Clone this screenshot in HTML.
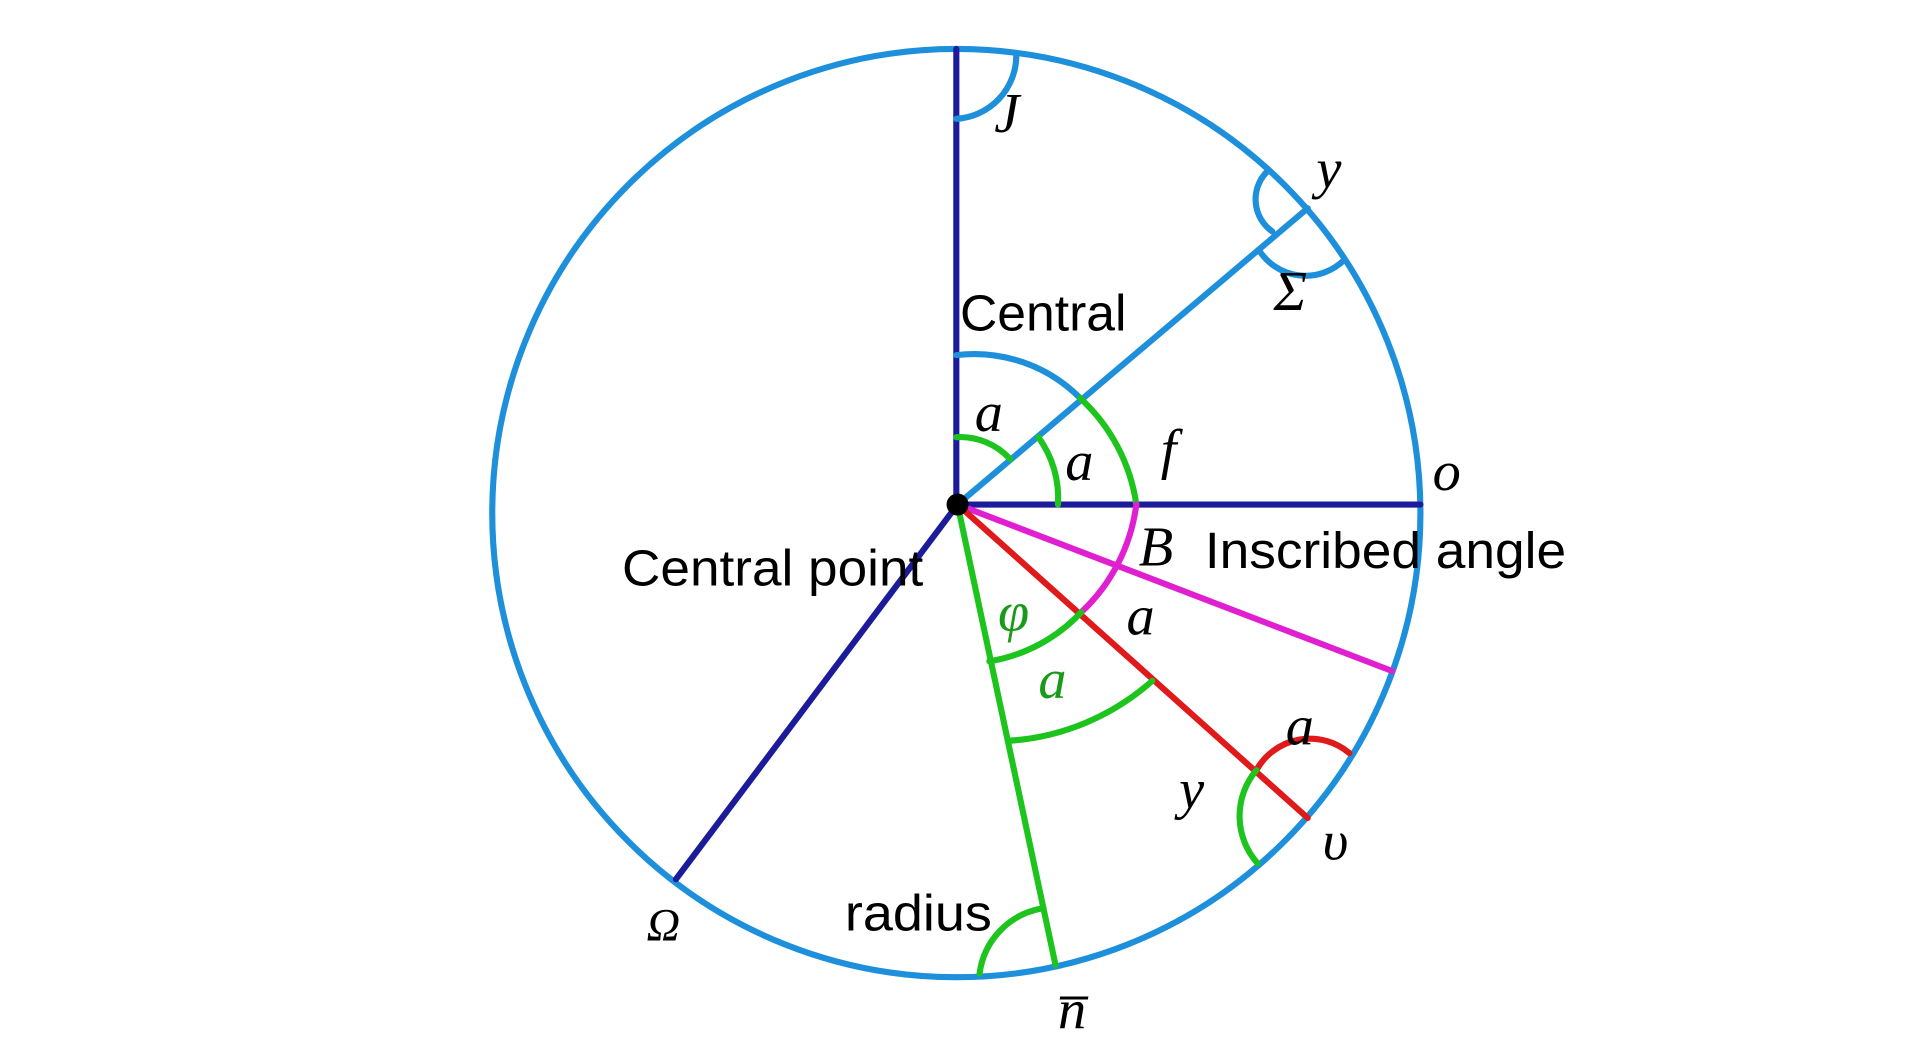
<!DOCTYPE html>
<html><head><meta charset="utf-8"><style>
html,body{margin:0;padding:0;background:#fff;}
svg{display:block;}
.s{font-family:"Liberation Sans",sans-serif;font-size:42px;fill:#000;}
.i{font-family:"Liberation Serif",serif;font-style:italic;font-size:46px;fill:#000;}
</style></head><body>
<svg width="1920" height="1047" viewBox="0 0 1568 855" preserveAspectRatio="none" xmlns="http://www.w3.org/2000/svg">
<rect width="1568" height="855" fill="#fff"/>
<g fill="none" stroke-width="5" stroke-linecap="round">
<circle cx="781" cy="419" r="379" stroke="#1e90db"/>
<line x1="781" y1="40" x2="781" y2="412" stroke="#1c1c9a"/>
<line x1="782" y1="412" x2="1160" y2="412" stroke="#1c1c9a"/>
<line x1="782" y1="412" x2="552" y2="718" stroke="#1c1c9a"/>
<line x1="782" y1="412" x2="1068" y2="170" stroke="#1e90db"/>
<line x1="782" y1="412" x2="1137" y2="548" stroke="#e020d0"/>
<line x1="782" y1="412" x2="1068" y2="668" stroke="#e01a1a"/>
<line x1="782" y1="412" x2="862" y2="788" stroke="#1ec41e"/>
<path d="M781,97 A52 52 0 0 0 830,45" stroke="#1e90db"/>
<path d="M781,290 A122 122 0 0 1 882,325" stroke="#1e90db"/>
<path d="M781,357 A55 55 0 0 1 825,375" stroke="#1ec41e"/>
<path d="M848,357 A84 84 0 0 1 864,412" stroke="#1ec41e"/>
<path d="M882,325 A146 146 0 0 1 928,412" stroke="#1ec41e"/>
<path d="M928,412 A146 146 0 0 1 883,500" stroke="#e020d0"/>
<path d="M883,500 A132 132 0 0 1 808,540" stroke="#1ec41e"/>
<path d="M823,605 A195 195 0 0 0 941,556" stroke="#1ec41e"/>
<path d="M1036,139 A32 32 0 0 0 1039,189" stroke="#1e90db"/>
<path d="M1028,204 A45 45 0 0 0 1098,212" stroke="#1e90db"/>
<path d="M1026,629 A50 50 0 0 1 1102,615" stroke="#e01a1a"/>
<path d="M1026,629 A58 58 0 0 0 1027,705" stroke="#1ec41e"/>
<path d="M850,742 A62 62 0 0 0 800,795" stroke="#1ec41e"/>
</g>
<circle cx="782" cy="412" r="9" fill="#000"/>
<text class="s" x="784" y="270" textLength="136" lengthAdjust="spacingAndGlyphs">Central</text>
<text class="s" x="508" y="478" textLength="246" lengthAdjust="spacingAndGlyphs">Central point</text>
<text class="s" x="984" y="464" textLength="295" lengthAdjust="spacingAndGlyphs">Inscribed angle</text>
<text class="s" x="690" y="760" textLength="120" lengthAdjust="spacingAndGlyphs">radius</text>
<text class="i" x="812" y="108">J</text>
<text class="i" x="1075" y="153">y</text>
<text class="i" x="1040" y="253">Σ</text>
<text class="i" x="796" y="352">a</text>
<text class="i" x="870" y="392">a</text>
<text class="i" x="948" y="382">f</text>
<text class="i" x="1170" y="400">o</text>
<text class="i" x="930" y="462">B</text>
<text class="i" x="920" y="518">a</text>
<text class="i" x="815" y="515" style="fill:#1a9a1a">φ</text>
<text class="i" x="848" y="570" style="fill:#1a9a1a">a</text>
<text class="i" x="1050" y="608">a</text>
<text class="i" x="963" y="660">y</text>
<text class="i" x="1080" y="702">υ</text>
<text class="i" x="528" y="768" style="font-size:38px">Ω</text>
<text class="i" x="864" y="840">n̅</text>
</svg>
</body></html>
